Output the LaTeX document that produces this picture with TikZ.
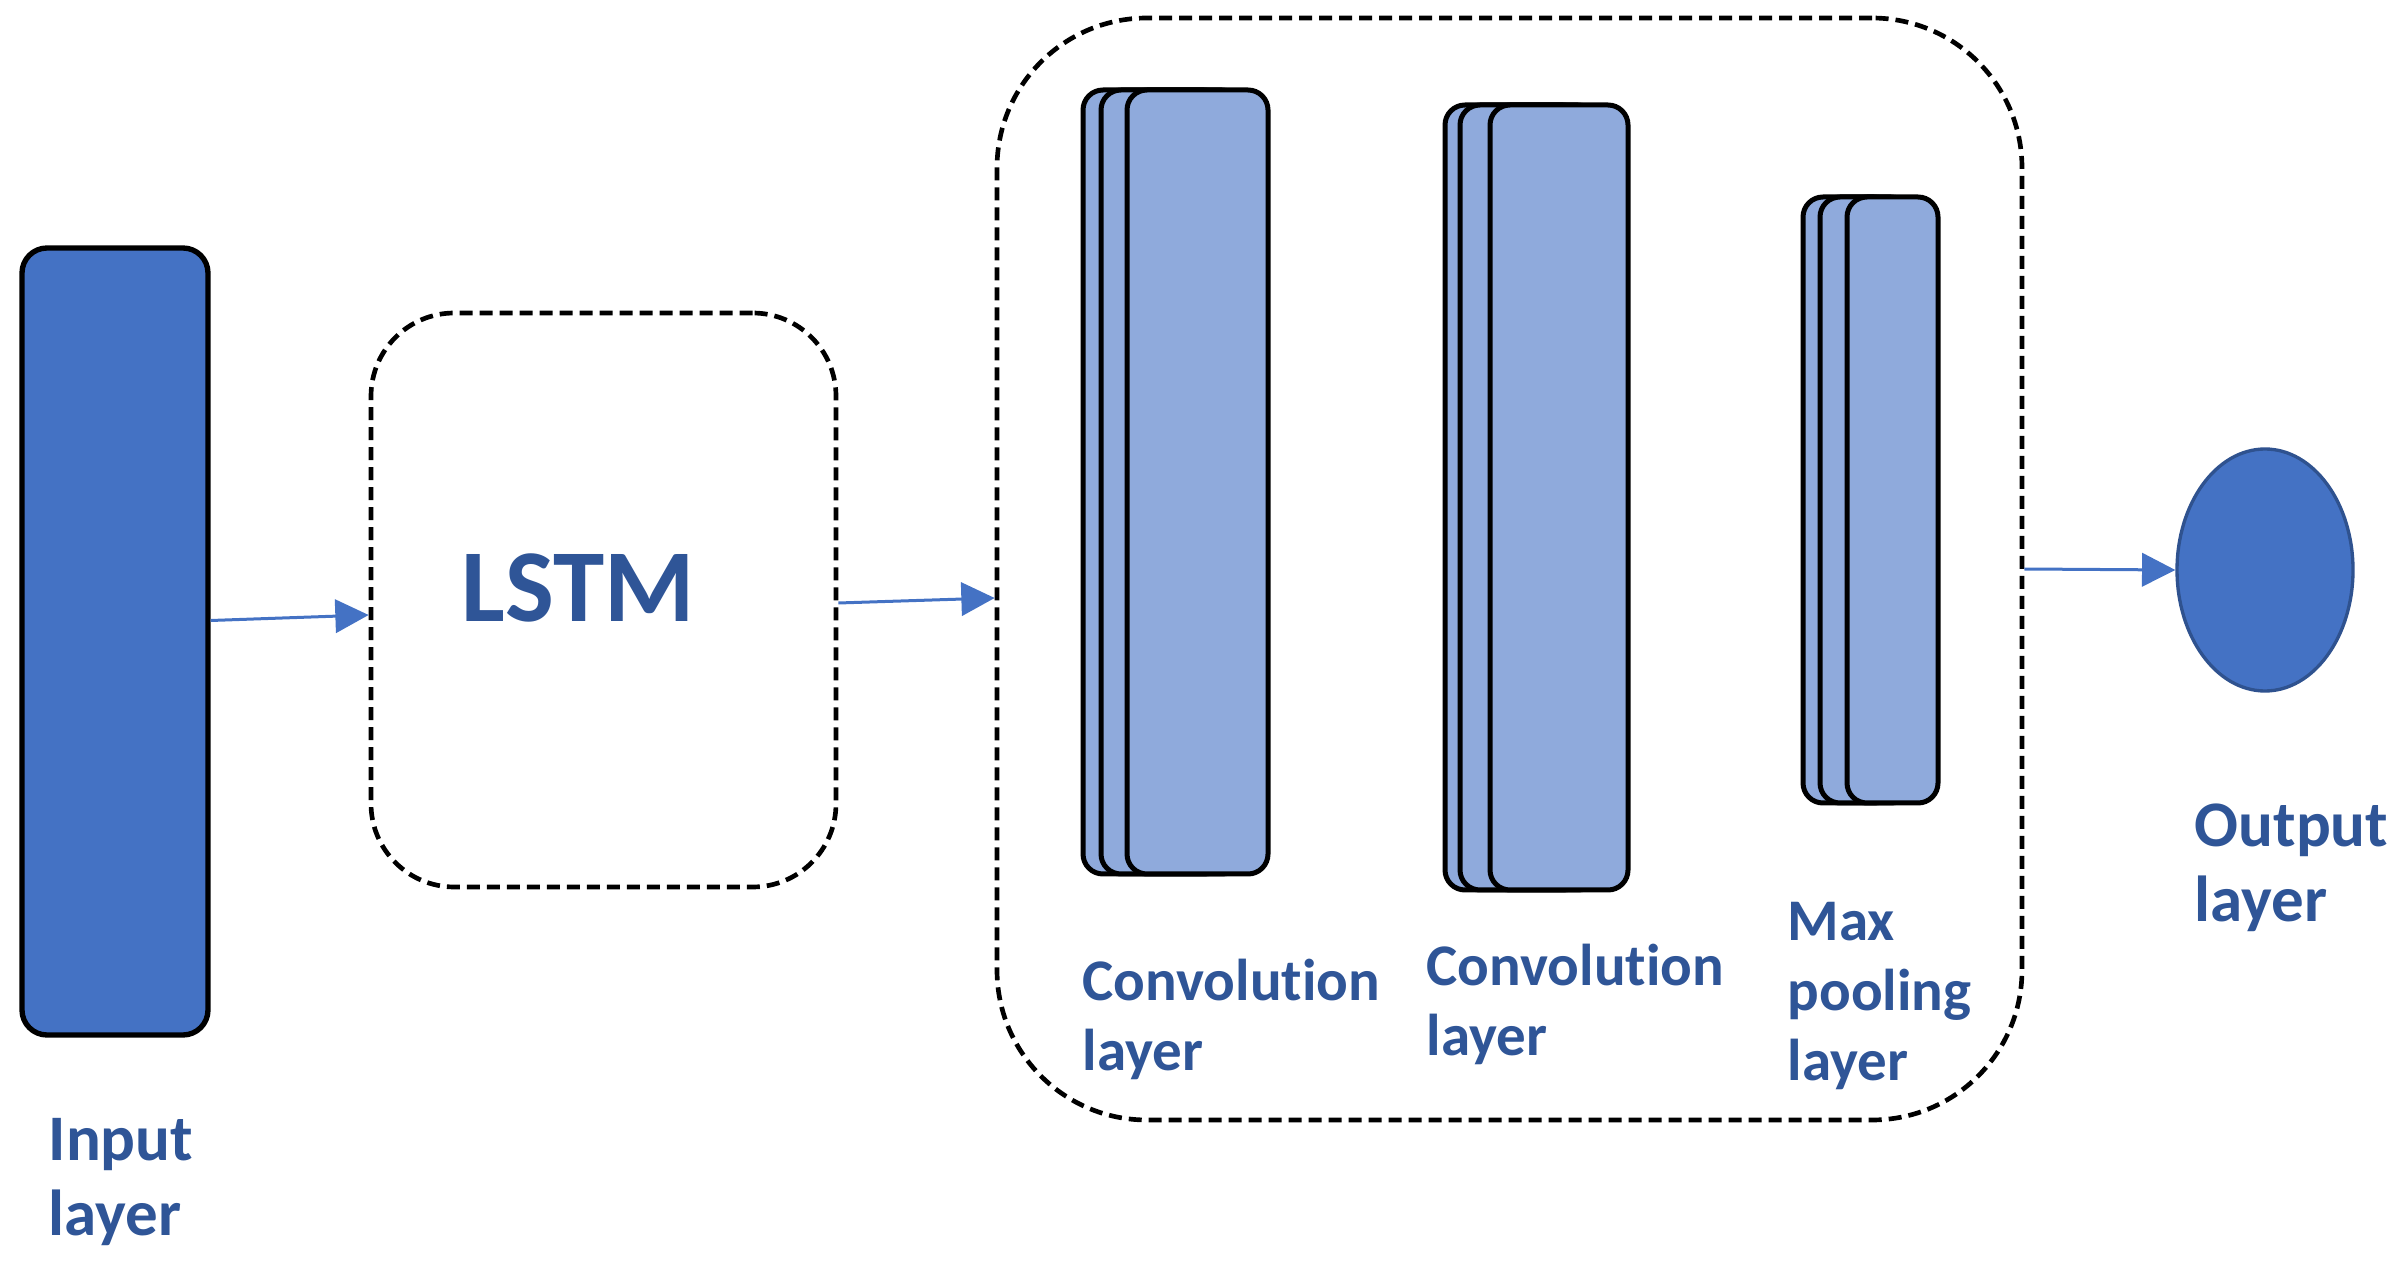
\documentclass[tikz,border=0pt]{standalone}
\usepackage{fontspec}
\setmainfont{Carlito}[Ligatures=NoCommon]
\usetikzlibrary{arrows.meta,shapes.geometric,calc}

\begin{document}
\begin{tikzpicture}[x=0.3pt,y=0.3pt,yscale=-1,xscale=1,
  inlayer/.style={draw,line width=1.6pt,rounded corners=7.5pt,fill={rgb,255:red,68;green,114;blue,196},inner sep=0},
  convbox/.style={draw,line width=1.5pt,rounded corners=6pt,fill={rgb,255:red,143;green,170;blue,220},inner sep=0},
  dashbox/.style={draw,line width=1.4pt,dash pattern=on 3.9pt off 2.1pt,inner sep=0},
  outlayer/.style={ellipse,draw={rgb,255:red,47;green,82;blue,143},line width=1pt,fill={rgb,255:red,68;green,114;blue,196},inner sep=0},
  lbl/.style={text={rgb,255:red,47;green,85;blue,151},font=\bfseries,inner sep=0,align=left,anchor=base west},
  flow/.style={draw={rgb,255:red,68;green,114;blue,196},line width=0.9pt,-{Triangle[length=10pt,width=10pt]}}]
\useasboundingbox (0,0) rectangle (2397,1268);

%Input layer
\node[inlayer,minimum width=55.8pt,minimum height=236.1pt] (input) at (115,641.5) {};
\node[lbl,font=\fontsize{19.5}{22.5}\selectfont\bfseries] (inputlbl) at (48,1235) {Input\\layer};

%LSTM block
\node[dashbox,rounded corners=25pt,minimum width=139.5pt,minimum height=172.2pt] (lstm) at (603.5,600) {};
\node[lbl,anchor=base,font=\fontsize{31}{37}\selectfont\bfseries] (lstmlbl) at (578,622) {LSTM};

%CNN block
\node[dashbox,rounded corners=45pt,minimum width=307.5pt,minimum height=330.6pt] (cnn) at (1509.5,569) {};

%first convolution stack
\node[convbox,minimum width=42.3pt,minimum height=235.2pt] (convAa) at (1153.5,482) {};
\node[convbox,minimum width=42.3pt,minimum height=235.2pt] (convAb) at (1171.5,482) {};
\node[convbox,minimum width=42.3pt,minimum height=235.2pt] (convAc) at (1197.5,482) {};
\node[lbl,font=\fontsize{17.7}{21}\selectfont\bfseries] (convAlbl) at (1082,1070) {Convolution\\layer};

%second convolution stack
\node[convbox,minimum width=41.4pt,minimum height=235.5pt] (convBa) at (1514,497.5) {};
\node[convbox,minimum width=41.4pt,minimum height=235.5pt] (convBb) at (1529,497.5) {};
\node[convbox,minimum width=41.4pt,minimum height=235.5pt] (convBc) at (1559,497.5) {};
\node[lbl,font=\fontsize{17.7}{21}\selectfont\bfseries] (convBlbl) at (1426,1055) {Convolution\\layer};

%max pooling stack
\node[convbox,minimum width=27.3pt,minimum height=181.8pt] (poola) at (1848.5,500) {};
\node[convbox,minimum width=27.3pt,minimum height=181.8pt] (poolb) at (1865.5,500) {};
\node[convbox,minimum width=27.3pt,minimum height=181.8pt] (poolc) at (1892.5,500) {};
\node[lbl,font=\fontsize{17.7}{21}\selectfont\bfseries] (poollbl) at (1787,1080) {Max\\pooling\\layer};

%Output layer
\node[outlayer,minimum width=52.8pt,minimum height=72.6pt] (out) at (2265,570) {};
\node[lbl,font=\fontsize{19.5}{22.5}\selectfont\bfseries] (outlbl) at (2194,921) {Output\\layer};

%Arrows
\draw[flow] ($(input.east)+(0,-21)$) -- ($(lstm.west)+(0,15)$);
\draw[flow] ($(lstm.east)+(0,3)$) -- ($(cnn.west)+(0,29)$);
\draw[flow] (cnn.east) -- (out.west);

\end{tikzpicture}
\end{document}
